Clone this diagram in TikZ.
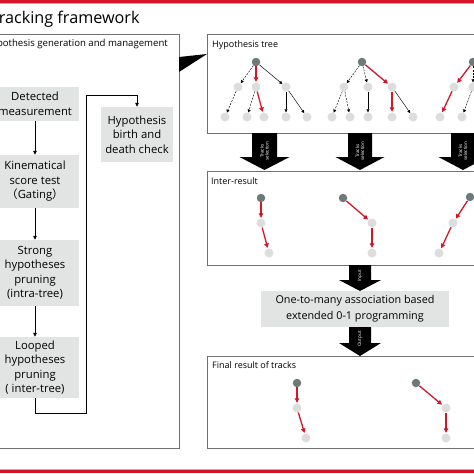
\documentclass[tikz,border=0pt]{standalone}
\usepackage{fontspec}
\setmainfont{Open Sans}
\newfontfamily\cjkfont{Noto Sans CJK SC}
\usetikzlibrary{arrows.meta}
\definecolor{tred}{HTML}{D3172B}
\definecolor{boxgray}{HTML}{E2E4E4}
\definecolor{rootc}{HTML}{6C7A7A}
\definecolor{leafc}{HTML}{DCDDDD}
\definecolor{framec}{HTML}{707070}
\newcommand\BigDownArrow[6]{%
  \fill[black] ({#1-#5},#2) -- ({#1+#5},#2) -- ({#1+#5},#3) -- ({#1+#6},#3)
    -- (#1,#4) -- ({#1-#6},#3) -- ({#1-#5},#3) -- cycle;}
\tikzset{
  frame/.style={draw=framec, line width=0.9pt},
  flowbox/.style={fill=boxgray, align=center, inner sep=0pt,
    font=\fontsize{11.3}{14.5}\selectfont},
  rootn/.style={circle, fill=rootc, minimum size=8.5pt, inner sep=0pt},
  leafn/.style={circle, fill=leafc, minimum size=9pt, inner sep=0pt},
  redarr/.style={draw=tred, line width=1.3pt, -{Triangle[length=4.5pt,width=4.5pt]}, shorten >=0.5pt},
  blkarr/.style={draw=black, line width=0.45pt, -{Triangle[length=3pt,width=3pt]}},
  dasharr/.style={blkarr, dash pattern=on 2pt off 1.2pt},
  flow/.style={draw=black, line width=0.8pt, -{Triangle[length=4pt,width=3.5pt]}},
  lbl/.style={font=\fontsize{9}{10}\selectfont, inner sep=0pt},
  arrtxt/.style={text=white, rotate=90, align=center, inner sep=0pt,
    font=\fontsize{4.6}{5}\selectfont},
}
\begin{document}
\begin{tikzpicture}[x=1pt,y=-1pt]
\useasboundingbox (0,0) rectangle (474,474);
% red rules
\draw[tred, line width=3pt] (0,1.5) -- (474,1.5);
\draw[tred!45, line width=1pt] (0,3.5) -- (474,3.5);
\draw[tred, line width=3pt] (0,471) -- (474,471);
\draw[tred!45, line width=1pt] (0,469) -- (474,469);
% title
\node[anchor=base west, inner sep=0pt, font=\fontsize{16.2}{18}\selectfont] (title) at (-9.5,23) {Tracking framework};
% left big box
\draw[frame] (-5,34) rectangle (179,448);
\node[lbl, font=\fontsize{9.6}{10}\selectfont, anchor=base east] (genlbl) at (168,46) {Hypothesis generation and management};
% connector triangle
\fill[black] (179,57) -- (207,54) -- (179,72) -- cycle;
% left flow
\node[flowbox, minimum width=88pt, minimum height=34pt] (det) at (35,104) {Detected\\measurement};
\node[flowbox, minimum width=88pt, minimum height=53pt] (kin) at (35,181.5) {Kinematical\\score test\\{\cjkfont （}Gating{\cjkfont ）}};
\node[flowbox, minimum width=88pt, minimum height=66pt] (strong) at (35,273) {Strong\\hypotheses\\pruning\\(intra-tree)};
\node[flowbox, minimum width=88pt, minimum height=61pt] (loop) at (35,367.5) {Looped\\hypotheses\\pruning\\( inter-tree)};
\node[flowbox, minimum width=72pt, minimum height=55pt] (birth) at (137,134.5) {Hypothesis\\birth and\\death check};
\draw[flow] (det) -- (kin);
\draw[flow] (kin) -- (strong);
\draw[flow] (strong) -- (loop);
\coordinate (c1) at (86,413);
\coordinate (c2) at (86,95);
\draw[flow] (loop.south) |- (c1) -- (c2) -| (birth.north);
% hypothesis tree box
\draw[frame] (207,34) rectangle (480,133);
\node[lbl, anchor=base west] (treelbl) at (212,47) {Hypothesis tree};
% tree 1
\node[rootn] (t1r) at (256,62) {};
\node[leafn] (t1a) at (238,87) {};
\node[leafn] (t1b) at (256,87) {};
\node[leafn] (t1c) at (286,87) {};
\node[leafn] (t1l1) at (225,117) {};
\node[leafn] (t1l2) at (247,117) {};
\node[leafn] (t1l3) at (264,117) {};
\node[leafn] (t1l4) at (286,117) {};
\node[leafn] (t1l5) at (307,117) {};
\draw[dasharr] (t1r) -- (t1a);
\draw[redarr] (t1r) -- (t1b);
\draw[blkarr] (t1r) -- (t1c);
\draw[dasharr] (t1a) -- (t1l1);
\draw[dasharr] (t1b) -- (t1l2);
\draw[redarr] (t1b) -- (t1l3);
\draw[blkarr] (t1c) -- (t1l4);
\draw[blkarr] (t1c) -- (t1l5);
% tree 2
\node[rootn] (t2r) at (362,62) {};
\node[leafn] (t2a) at (344,87) {};
\node[leafn] (t2b) at (368,87) {};
\node[leafn] (t2c) at (392,87) {};
\node[leafn] (t2l1) at (332,117) {};
\node[leafn] (t2l2) at (350,117) {};
\node[leafn] (t2l3) at (368,117) {};
\node[leafn] (t2l4) at (392,117) {};
\node[leafn] (t2l5) at (413,117) {};
\draw[dasharr] (t2r) -- (t2a);
\draw[dasharr] (t2r) -- (t2b);
\draw[redarr] (t2r) -- (t2c);
\draw[dasharr] (t2a) -- (t2l1);
\draw[dasharr] (t2a) -- (t2l2);
\draw[blkarr] (t2b) -- (t2l3);
\draw[redarr] (t2c) -- (t2l4);
\draw[blkarr] (t2c) -- (t2l5);
% tree 3
\node[rootn] (t3r) at (473,62) {};
\node[leafn] (t3a) at (454,87) {};
\node[leafn] (t3b) at (473,87) {};
\node[leafn] (t3l1) at (440,117) {};
\node[leafn] (t3l2) at (462,117) {};
\draw[redarr] (t3r) -- (t3a);
\draw[dasharr] (t3r) -- (t3b);
\draw[redarr] (t3a) -- (t3l1);
\draw[dasharr] (t3b) -- (t3l2);
% tracks selection arrows
\BigDownArrow{264.5}{133}{157}{170}{12.5}{25}
\node[arrtxt] (ts1) at (264.5,151) {Tracks\\selection};
\BigDownArrow{360}{133}{157}{170}{12}{24.5}
\node[arrtxt] (ts2) at (360,151) {Tracks\\selection};
\BigDownArrow{463}{133}{157}{170}{12}{24.5}
\node[arrtxt] (ts3) at (463,151) {Tracks\\selection};
% inter-result box
\draw[frame] (207,171) rectangle (480,265);
\node[lbl, anchor=base west] (interlbl) at (211,184) {Inter-result};
\node[rootn] (i1r) at (261,198) {};
\node[leafn] (i1m) at (261,223) {};
\node[leafn] (i1l) at (269,253) {};
\draw[redarr] (i1r) -- (i1m);
\draw[redarr] (i1m) -- (i1l);
\node[rootn] (i2r) at (343,198) {};
\node[leafn] (i2m) at (372,223) {};
\node[leafn] (i2l) at (372,253) {};
\draw[redarr] (i2r) -- (i2m);
\draw[redarr] (i2m) -- (i2l);
\node[rootn] (i3r) at (470,197) {};
\node[leafn] (i3m) at (453,223) {};
\node[leafn] (i3l) at (439,253) {};
\draw[redarr] (i3r) -- (i3m);
\draw[redarr] (i3m) -- (i3l);
% input arrow
\BigDownArrow{360}{265}{280}{291}{11}{21}
\node[arrtxt] (inp) at (360,276) {Input};
% association box
\node[flowbox, font=\fontsize{10.8}{16}\selectfont, minimum width=188pt, minimum height=36pt] (assoc) at (355,309) {One-to-many association based\\extended 0-1 programming};
% output arrow
\BigDownArrow{360}{327}{343}{356}{11}{21}
\node[arrtxt] (outp) at (360,339) {Output};
% final box
\draw[frame] (207,356) rectangle (480,448);
\node[lbl, anchor=base west] (finallbl) at (212,368) {Final result of tracks};
\node[rootn] (f1r) at (297,383) {};
\node[leafn] (f1m) at (297,408) {};
\node[leafn] (f1l) at (306,438) {};
\draw[redarr] (f1r) -- (f1m);
\draw[redarr] (f1m) -- (f1l);
\node[rootn] (f2r) at (416,383) {};
\node[leafn] (f2m) at (446,408) {};
\node[leafn] (f2l) at (446,438) {};
\draw[redarr] (f2r) -- (f2m);
\draw[redarr] (f2m) -- (f2l);
\end{tikzpicture}
\end{document}
